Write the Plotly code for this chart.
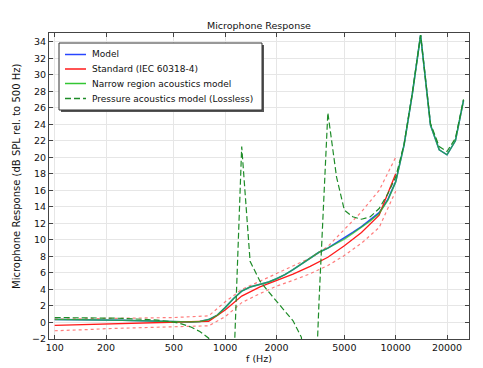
import plotly.graph_objects as go

# ---------------- data ----------------
freq = [100, 112, 125, 140, 160, 180, 200, 224, 250, 280, 315, 355, 400, 450, 500,
        560, 630, 710, 800, 900, 1000, 1120, 1250, 1400, 1600, 1800, 2000, 2240,
        2500, 2800, 3150, 3550, 4000, 4500, 5000, 5600, 6300, 7100, 8000, 9000,
        10000, 11200, 12500, 14000, 16000, 18000, 20000, 22400, 25000]

narrow = [0.35, 0.35, 0.35, 0.34, 0.33, 0.32, 0.30, 0.28, 0.26, 0.24, 0.20, 0.17,
          0.13, 0.10, 0.07, 0.05, 0.05, 0.12, 0.35, 0.9, 1.8, 2.9, 3.8, 4.3, 4.6,
          4.9, 5.3, 5.8, 6.4, 7.1, 7.8, 8.5, 9.0, 9.6, 10.1, 10.8, 11.5, 12.3, 13.2,
          14.8, 17.0, 21.5, 27.6, 34.8, 23.9, 20.9, 20.3, 22.0, 26.9]

model = [0.35, 0.35, 0.35, 0.34, 0.33, 0.32, 0.30, 0.28, 0.26, 0.24, 0.20, 0.17,
         0.13, 0.10, 0.07, 0.05, 0.05, 0.12, 0.35, 0.9, 1.8, 2.9, 3.8, 4.3, 4.6,
         4.9, 5.3, 5.8, 6.4, 7.1, 7.8, 8.5, 9.0, 9.65, 10.2, 10.9, 11.6, 12.4, 13.3,
         14.9, 17.05, 21.5, 27.6, 34.8, 23.9, 20.9, 20.3, 22.0, 26.9]

pressure = [0.6, 0.6, 0.6, 0.58, 0.57, 0.55, 0.55, 0.52, 0.5, 0.47, 0.42, 0.35,
            0.28, 0.18, 0.05, -0.2, -0.55, -1.1, -1.9, -8.0, -20.0, -6.0, 21.3,
            7.4, 5.0, 3.7, 2.6, 1.4, 0.2, -1.8, -25.0, 2.5, 25.4, 17.6, 13.6, 12.8,
            12.5, 12.8, 13.8, 15.6, 17.6, 21.6, 27.7, 34.8, 24.1, 21.3, 20.7, 22.3,
            27.0]

freq_std = [100, 125, 160, 200, 250, 315, 400, 500, 630, 800, 1000, 1250, 1600,
            2000, 2500, 3150, 4000, 5000, 6300, 8000, 10000]
std_center = [-0.35, -0.3, -0.25, -0.2, -0.15, -0.1, -0.05, 0.0, 0.05, 0.15, 1.5,
              3.2, 4.3, 5.1, 5.85, 6.8, 7.9, 9.3, 10.9, 13.0, 18.0]
std_upper = [0.4, 0.42, 0.45, 0.47, 0.5, 0.52, 0.55, 0.6, 0.7, 0.8, 2.5, 4.0, 5.0,
             5.9, 6.8, 7.8, 9.2, 11.3, 13.4, 16.0, 20.0]
std_lower = [-1.0, -0.95, -0.85, -0.75, -0.7, -0.65, -0.6, -0.55, -0.5, -0.4, 0.7,
             2.4, 3.5, 4.4, 5.1, 5.9, 6.9, 8.1, 9.6, 11.5, 15.9]

x_tickvals = [100, 200, 500, 1000, 2000, 5000, 10000, 20000]
x_ticktext = ["100", "200", "500", "1000", "2000", "5000", "10000", "20000"]
y_tickvals = list(range(-2, 35, 2))

legend_labels = ["Model", "Standard (IEC 60318-4)", "Narrow region acoustics model",
                 "Pressure acoustics model (Lossless)"]

# ---------------- styles ----------------
C_BLUE = "#2846ff"
C_RED = "#ff1a1a"
C_GREEN = "#33c633"
C_DGREEN = "#1e8c28"
FONT = "DejaVu Sans"
TXT = "#111111"

fig = go.Figure()
fig.add_trace(go.Scatter(x=freq, y=model, mode="lines", name=legend_labels[0],
                         line=dict(color=C_BLUE, width=1.5), showlegend=False))
fig.add_trace(go.Scatter(x=freq_std, y=std_upper, mode="lines", showlegend=False,
                         line=dict(color="rgba(255,70,70,0.7)", width=1.2, dash="dot")))
fig.add_trace(go.Scatter(x=freq_std, y=std_lower, mode="lines", showlegend=False,
                         line=dict(color="rgba(255,70,70,0.7)", width=1.2, dash="dot")))
fig.add_trace(go.Scatter(x=freq_std, y=std_center, mode="lines", name=legend_labels[1],
                         line=dict(color=C_RED, width=1.3), showlegend=False))
fig.add_trace(go.Scatter(x=freq, y=narrow, mode="lines", name=legend_labels[2],
                         line=dict(color="rgba(30,190,30,0.72)", width=1.5), showlegend=False))
fig.add_trace(go.Scatter(x=freq, y=pressure, mode="lines", name=legend_labels[3],
                         line=dict(color=C_DGREEN, width=1.2, dash="6px,3px"),
                         showlegend=False))

# The page body adds an 8px offset; work in page pixels and subtract it.
OFF = 8
W, H = 483 - OFF, 368 - OFF
PL, PR, PT, PB = 49, 469, 33, 339   # plot area in page pixels
L, R, T, B = PL - OFF, PR - OFF, PT - OFF, PB - OFF


def px2x(px):
    return (px - PL) / (PR - PL)


def py2y(py):
    return (PB - py) / (PB - PT)


shapes = []
lx0, lx1, ly0, ly1 = 59, 262, 43, 110
shapes.append(dict(type="rect", xref="paper", yref="paper",
                   x0=px2x(lx0 + 2), x1=px2x(lx1 + 2), y0=py2y(ly1 + 2), y1=py2y(ly0 + 2),
                   fillcolor="#555555", line=dict(width=0), layer="above"))
shapes.append(dict(type="rect", xref="paper", yref="paper",
                   x0=px2x(lx0), x1=px2x(lx1), y0=py2y(ly1), y1=py2y(ly0),
                   fillcolor="white", line=dict(color="#333333", width=1), layer="above"))
item_y = [54.5, 69, 83.5, 98.5]
item_styles = [dict(color=C_BLUE, width=1.5), dict(color=C_RED, width=1.5),
               dict(color=C_GREEN, width=1.5), dict(color=C_DGREEN, width=1.5, dash="6px,3px")]
annotations = []
for yy, st, lab in zip(item_y, item_styles, legend_labels):
    shapes.append(dict(type="line", xref="paper", yref="paper",
                       x0=px2x(65), x1=px2x(86), y0=py2y(yy), y1=py2y(yy),
                       line=st, layer="above"))
    annotations.append(dict(text=lab, xref="paper", yref="paper", x=px2x(90), y=py2y(yy),
                            xanchor="left", yanchor="middle", showarrow=False,
                            font=dict(family=FONT, size=9, color=TXT)))

# y-axis title (placed explicitly)
annotations.append(dict(text="Microphone Response (dB SPL rel. to 500 Hz)",
                        xref="paper", yref="paper", x=px2x(16), y=py2y(177),
                        xanchor="center", yanchor="middle", textangle=-90,
                        showarrow=False, font=dict(family=FONT, size=10, color=TXT)))

axis_common = dict(showline=True, linecolor="#444444", linewidth=1, mirror="ticks",
                   ticks="inside", ticklen=4, tickcolor="#444444", showgrid=True,
                   gridcolor="#e6e6e6", gridwidth=1, zeroline=False, automargin=False,
                   tickfont=dict(family=FONT, size=9.5, color=TXT))

fig.update_layout(
    width=W, height=H,
    margin=dict(l=L, r=W - R, t=T, b=H - B),
    paper_bgcolor="white", plot_bgcolor="white",
    title=dict(text="Microphone Response", x=0.5, xref="paper", y=1 - (26 - OFF) / H,
               yref="container", yanchor="middle", xanchor="center",
               font=dict(family=FONT, size=9.5, color=TXT)),
    xaxis=dict(type="log", range=[1.9666, 4.4300], tickvals=x_tickvals,
               ticktext=x_ticktext,
               title=dict(text="f (Hz)", standoff=0,
                          font=dict(family=FONT, size=9.5, color=TXT)),
               **axis_common),
    yaxis=dict(range=[-2, 35.05], tickvals=y_tickvals, **axis_common),
    showlegend=False,
    shapes=shapes,
    annotations=annotations,
)

fig.write_html("out.html")
